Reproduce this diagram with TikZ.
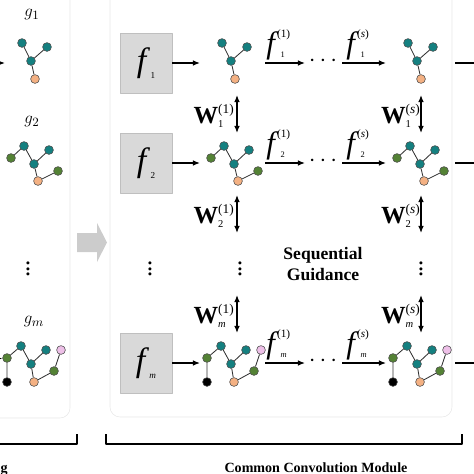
\documentclass[tikz,border=0pt]{standalone}
\usepackage{fontspec}
\setmainfont{Liberation Serif}
\usetikzlibrary{arrows.meta}
\definecolor{nodeTeal}{RGB}{20,128,128}
\definecolor{nodeOrange}{RGB}{244,177,131}
\definecolor{nodeGreen}{RGB}{84,130,53}
\definecolor{nodePink}{RGB}{238,192,232}
\definecolor{boxGray}{RGB}{217,217,217}
\tikzset{gnode/.style={circle,draw=black!70,line width=.4pt,inner sep=0pt,minimum size=.22cm},
 tealnode/.style={gnode,fill=nodeTeal},
 orangenode/.style={gnode,fill=nodeOrange},
 greennode/.style={gnode,fill=nodeGreen},
 pinknode/.style={gnode,fill=nodePink},
 blacknode/.style={gnode,fill=black},
 gedge/.style={draw=black!80,line width=.6pt},
 flow/.style={-{Latex[length=5pt,width=4pt]},line width=.9pt},
 link/.style={{Latex[length=5pt,width=4pt]}-{Latex[length=5pt,width=4pt]},line width=.9pt},
 fbox/.style={draw=black!25,fill=boxGray,minimum width=1.3cm,minimum height=1.5cm},
 panel/.style={draw=black!9,fill=white,rounded corners=.25cm},
 bracket/.style={line width=1.2pt},
 every picture/.style={line join=round}}
% big f inside the boxes, and the small step labels
\newcommand{\fbig}[1]{{\fontsize{24}{24}\selectfont\itshape f}\kern3pt\raisebox{-5pt}{\fontsize{6.5}{6.5}\selectfont #1}}
\newcommand{\fstep}[2]{{\fontsize{22}{22}\selectfont\itshape f\/}\rlap{\kern1.5pt\raisebox{-3pt}{\fontsize{6}{6}\selectfont #1}}\kern-1pt\raisebox{11pt}{\fontsize{8}{8}\selectfont #2}}
\newcommand{\wlink}[2]{{\fontsize{17.5}{17.5}\selectfont\bfseries W}\rlap{\raisebox{-3.5pt}{\fontsize{7.5}{7.5}\selectfont #1}}\raisebox{7pt}{\fontsize{9.5}{9.5}\selectfont #2}}
% the three small graphs, #1 = name prefix, #2 = x shift
\newcommand{\graphOne}[2]{%
 \begin{scope}[shift={(#2,0)}]
 \node[tealnode] (#1a) at (22,43) {};
 \node[tealnode] (#1b) at (47,47) {};
 \node[tealnode] (#1c) at (31,61) {};
 \node[orangenode] (#1d) at (35,79) {};
 \draw[gedge] (#1a) -- (#1c) (#1b) -- (#1c) (#1c) -- (#1d);
 \end{scope}}
\newcommand{\graphTwo}[2]{%
 \begin{scope}[shift={(#2,0)}]
 \node[greennode] (#1a) at (11,158) {};
 \node[tealnode] (#1b) at (24,146) {};
 \node[tealnode] (#1c) at (49,150) {};
 \node[tealnode] (#1d) at (34,164) {};
 \node[greennode] (#1e) at (58,171) {};
 \node[orangenode] (#1f) at (38,181) {};
 \draw[gedge] (#1a) -- (#1b) (#1b) -- (#1d) (#1c) -- (#1d) (#1d) -- (#1f) (#1f) -- (#1e);
 \end{scope}}
\newcommand{\graphM}[2]{%
 \begin{scope}[shift={(#2,0)}]
 \node[greennode] (#1a) at (7,358) {};
 \node[tealnode] (#1b) at (21,346) {};
 \node[tealnode] (#1c) at (46,350) {};
 \node[tealnode] (#1d) at (31,364) {};
 \node[pinknode] (#1e) at (61,350) {};
 \node[greennode] (#1f) at (54,371) {};
 \node[orangenode] (#1g) at (34,382) {};
 \node[blacknode] (#1h) at (7,382) {};
 \draw[gedge] (#1a) -- (#1h) (#1a) -- (#1b) (#1b) -- (#1d) (#1c) -- (#1d) (#1d) -- (#1g) (#1g) -- (#1f) (#1f) -- (#1e);
 \end{scope}}

\begin{document}
\begin{tikzpicture}[x=0.025cm,y=-0.025cm]
\useasboundingbox (0,0) rectangle (474,474);
% panels
\draw[panel] (-30,-30) rectangle (70,418);
\draw[panel] (110,-30) rectangle (452,417);
\fill[black!20] (77,233) -- (97,233) -- (97,223) -- (107,242.5) -- (97,262) -- (97,252) -- (77,252) -- cycle;

% left column
\node (lg1) at (32,15) {\fontsize{13}{13}\selectfont$g_1$};
\node (lg2) at (32,122) {\fontsize{13}{13}\selectfont$g_2$};
\node (lgm) at (34,322) {\fontsize{13}{13}\selectfont$g_m$};
\node (ldots) at (28,265) {\fontsize{18}{18}\selectfont$\vdots$};
\graphOne{L1}{0}
\graphTwo{L2}{0}
\graphM{Lm}{0}
\coordinate (in0) at (-12,63);
\coordinate (in0e) at (5,63);
\draw[flow] (in0) -- (in0e);
\coordinate (inm0) at (-20,360);
\draw[flow] (inm0) -- (Lma);

% common convolution module
\graphOne{A1}{200}
\graphTwo{A2}{200}
\graphM{Am}{200}
\graphOne{B1}{386}
\graphTwo{B2}{386}
\graphM{Bm}{386}
\foreach \r/\y/\s in {1/63/1,2/163/2,m/363/\textit{m}}{
 \node[fbox] (f\r) at (146,\y) {\fbig{\s}};
 \coordinate (in\r) at (200,\y);
 \draw[flow] (f\r) -- (in\r);
 \coordinate (sA\r) at (265,\y);
 \coordinate (eA\r) at (305,\y);
 \draw[flow] (sA\r) -- (eA\r);
 \node[anchor=base west,inner sep=0pt] (fA\r) at (266,\y-10) {\fstep{\s}{(1)}};
 \node[inner sep=0pt] (dots\r) at (323,\y-1.5) {\fontsize{16}{16}\selectfont$\cdots$};
 \coordinate (sB\r) at (342,\y);
 \coordinate (eB\r) at (386,\y);
 \draw[flow] (sB\r) -- (eB\r);
 \node[anchor=base west,inner sep=0pt] (fB\r) at (346,\y-10) {\fstep{\s}{({\itshape s})}};
 \coordinate (out\r) at (455,\y);
 \coordinate (oute\r) at (500,\y);
 \draw[flow] (out\r) -- (oute\r);
}
\foreach \r/\y/\s in {1/95/1,2/195/2,m/295/\textit{m}}{
 \coordinate (wA\r t) at (237,\y);
 \coordinate (wA\r b) at (237,\y+38);
 \draw[link] (wA\r t) -- (wA\r b);
 \node[anchor=base east,inner sep=0pt] (wlA\r) at (234,\y+28) {\wlink{\s}{(1)}};
 \coordinate (wB\r t) at (421,\y);
 \coordinate (wB\r b) at (421,\y+38);
 \draw[link] (wB\r t) -- (wB\r b);
 \node[anchor=base east,inner sep=0pt] (wlB\r) at (420,\y+28) {\wlink{\s}{({\itshape s})}};
}
\node (fdots) at (150,265) {\fontsize{18}{18}\selectfont$\vdots$};
\node (adots) at (240,265) {\fontsize{18}{18}\selectfont$\vdots$};
\node (bdots) at (421,265) {\fontsize{18}{18}\selectfont$\vdots$};
\node[align=center,font=\bfseries\fontsize{12.5}{15.6}\selectfont] (guide) at (323,264) {Sequential\\Guidance};

% brackets
\draw[bracket] (-10,444) -- (77,444) -- (77,434);
\draw[bracket] (106,434) -- (106,444) -- (462,444) -- (462,434);
\node[anchor=base east,inner sep=0pt,font=\bfseries\fontsize{10}{12}\selectfont] (gtail) at (8,472) {g};
\node[anchor=base,inner sep=0pt,font=\bfseries\fontsize{10}{12}\selectfont] (ccm) at (316,472) {Common Convolution Module};
\end{tikzpicture}
\end{document}
